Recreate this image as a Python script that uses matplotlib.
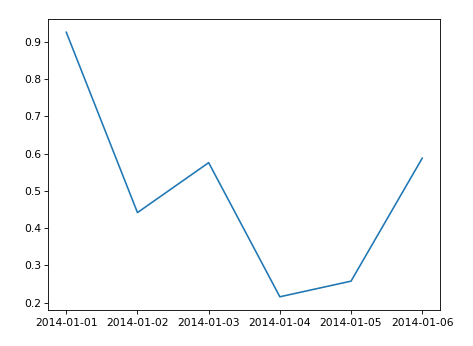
import matplotlib
matplotlib.use("Agg")
import matplotlib.pyplot as plt
import pandas as pd

# dados
datas = pd.date_range("2014-01-01", periods=6, freq="D")
valores = [0.926, 0.442, 0.576, 0.216, 0.258, 0.588]
rotulos = [d.strftime("%Y-%m-%d") for d in datas]

DPI = 77
fig, ax = plt.subplots(figsize=(474 / DPI, 346 / DPI), dpi=DPI)
fig.subplots_adjust(left=0.1023, right=0.9283, bottom=0.104, top=0.945)

ax.plot(datas, valores, color="#1f77b4", linewidth=1.5)
ax.set_xticks(datas)
ax.set_xticklabels(rotulos)
ax.set_yticks([0.2, 0.3, 0.4, 0.5, 0.6, 0.7, 0.8, 0.9])

fig.savefig("out.png", dpi=DPI)
